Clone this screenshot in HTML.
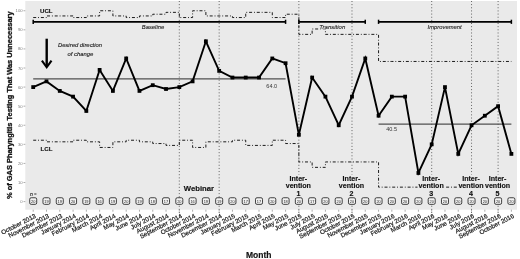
<!DOCTYPE html>
<html><head><meta charset="utf-8"><title>Control chart</title>
<style>html,body{margin:0;padding:0;background:#fff;}body{width:520px;height:259px;overflow:hidden}svg{display:block}</style>
</head><body>
<svg width="520" height="259" viewBox="0 0 520 259" font-family="Liberation Sans, Arial, sans-serif">
<rect width="520" height="259" fill="#fff"/>
<rect x="25.3" y="1" width="491.7" height="208.7" fill="#eaeaea"/>
<line x1="23.5" x2="25.3" y1="201.60" y2="201.60" stroke="#777" stroke-width="0.6"/>
<text x="22.6" y="203.10" font-size="4.2" text-anchor="end" fill="#7d7d7d">0</text>
<line x1="23.5" x2="25.3" y1="182.51" y2="182.51" stroke="#777" stroke-width="0.6"/>
<text x="22.6" y="184.01" font-size="4.2" text-anchor="end" fill="#7d7d7d">10</text>
<line x1="23.5" x2="25.3" y1="163.43" y2="163.43" stroke="#777" stroke-width="0.6"/>
<text x="22.6" y="164.93" font-size="4.2" text-anchor="end" fill="#7d7d7d">20</text>
<line x1="23.5" x2="25.3" y1="144.34" y2="144.34" stroke="#777" stroke-width="0.6"/>
<text x="22.6" y="145.84" font-size="4.2" text-anchor="end" fill="#7d7d7d">30</text>
<line x1="23.5" x2="25.3" y1="125.26" y2="125.26" stroke="#777" stroke-width="0.6"/>
<text x="22.6" y="126.76" font-size="4.2" text-anchor="end" fill="#7d7d7d">40</text>
<line x1="23.5" x2="25.3" y1="106.17" y2="106.17" stroke="#777" stroke-width="0.6"/>
<text x="22.6" y="107.67" font-size="4.2" text-anchor="end" fill="#7d7d7d">50</text>
<line x1="23.5" x2="25.3" y1="87.09" y2="87.09" stroke="#777" stroke-width="0.6"/>
<text x="22.6" y="88.59" font-size="4.2" text-anchor="end" fill="#7d7d7d">60</text>
<line x1="23.5" x2="25.3" y1="68.00" y2="68.00" stroke="#777" stroke-width="0.6"/>
<text x="22.6" y="69.50" font-size="4.2" text-anchor="end" fill="#7d7d7d">70</text>
<line x1="23.5" x2="25.3" y1="48.92" y2="48.92" stroke="#777" stroke-width="0.6"/>
<text x="22.6" y="50.42" font-size="4.2" text-anchor="end" fill="#7d7d7d">80</text>
<line x1="23.5" x2="25.3" y1="29.83" y2="29.83" stroke="#777" stroke-width="0.6"/>
<text x="22.6" y="31.33" font-size="4.2" text-anchor="end" fill="#7d7d7d">90</text>
<line x1="23.5" x2="25.3" y1="10.75" y2="10.75" stroke="#777" stroke-width="0.6"/>
<text x="22.6" y="12.25" font-size="4.2" text-anchor="end" fill="#7d7d7d">100</text>
<text transform="translate(11.8,105.2) rotate(-90)" font-size="7.45" font-weight="bold" text-anchor="middle" fill="#111" stroke="#111" stroke-width="0.3">% of GAS Pharyngitis Testing That Was Unnecessary</text>
<line x1="179.31" x2="179.31" y1="1" y2="216.2" stroke="#555" stroke-width="0.95" stroke-dasharray="0.95 2.2"/>
<line x1="219.16" x2="219.16" y1="1" y2="216.2" stroke="#555" stroke-width="0.95" stroke-dasharray="0.95 2.2"/>
<line x1="298.86" x2="298.86" y1="1" y2="216.2" stroke="#555" stroke-width="0.95" stroke-dasharray="0.95 2.2"/>
<line x1="351.99" x2="351.99" y1="1" y2="216.2" stroke="#555" stroke-width="0.95" stroke-dasharray="0.95 2.2"/>
<line x1="431.69" x2="431.69" y1="1" y2="216.2" stroke="#555" stroke-width="0.95" stroke-dasharray="0.95 2.2"/>
<line x1="471.54" x2="471.54" y1="1" y2="216.2" stroke="#555" stroke-width="0.95" stroke-dasharray="0.95 2.2"/>
<line x1="498.10" x2="498.10" y1="1" y2="216.2" stroke="#555" stroke-width="0.95" stroke-dasharray="0.95 2.2"/>
<polyline points="33.20,17.54 46.48,17.54 46.48,15.95 59.77,15.95 59.77,15.95 73.05,15.95 73.05,17.54 86.33,17.54 86.33,15.95 99.61,15.95 99.61,10.75 112.90,10.75 112.90,15.95 126.18,15.95 126.18,17.54 139.46,17.54 139.46,15.95 152.75,15.95 152.75,14.23 166.03,14.23 166.03,12.35 179.31,12.35 179.31,17.54 192.60,17.54 192.60,10.75 205.88,10.75 205.88,15.95 219.16,15.95 219.16,15.95 232.44,15.95 232.44,17.54 245.73,17.54 245.73,12.35 259.01,12.35 259.01,12.35 272.29,12.35 272.29,17.54 285.58,17.54 285.58,14.23 298.86,14.23 298.86,34.37 312.14,34.37 312.14,28.97 325.43,28.97 325.43,34.37 338.71,34.37 338.71,34.37 351.99,34.37 351.99,34.37 365.27,34.37 365.27,34.37 378.56,34.37 378.56,61.46 391.84,61.46 391.84,61.46 405.12,61.46 405.12,61.46 418.41,61.46 418.41,61.46 431.69,61.46 431.69,61.46 444.97,61.46 444.97,61.46 458.26,61.46 458.26,61.46 471.54,61.46 471.54,61.46 484.82,61.46 484.82,61.46 498.10,61.46 498.10,61.46 511.39,61.46 511.39,61.46 511.39,61.46" fill="none" stroke="#111" stroke-width="0.95" stroke-dasharray="3 1.9 0.9 1.9"/>
<polyline points="33.20,140.22 46.48,140.22 46.48,141.82 59.77,141.82 59.77,141.82 73.05,141.82 73.05,140.22 86.33,140.22 86.33,141.82 99.61,141.82 99.61,147.46 112.90,147.46 112.90,141.82 126.18,141.82 126.18,140.22 139.46,140.22 139.46,141.82 152.75,141.82 152.75,143.54 166.03,143.54 166.03,145.42 179.31,145.42 179.31,140.22 192.60,140.22 192.60,147.46 205.88,147.46 205.88,141.82 219.16,141.82 219.16,141.82 232.44,141.82 232.44,140.22 245.73,140.22 245.73,145.42 259.01,145.42 259.01,145.42 272.29,145.42 272.29,140.22 285.58,140.22 285.58,143.54 298.86,143.54 298.86,161.95 312.14,161.95 312.14,167.35 325.43,167.35 325.43,161.95 338.71,161.95 338.71,161.95 351.99,161.95 351.99,161.95 365.27,161.95 365.27,161.95 378.56,161.95 378.56,187.15 391.84,187.15 391.84,187.15 405.12,187.15 405.12,187.15 418.41,187.15 418.41,187.15 431.69,187.15 431.69,187.15 444.97,187.15 444.97,187.15 458.26,187.15 458.26,187.15 471.54,187.15 471.54,187.15 484.82,187.15 484.82,187.15 498.10,187.15 498.10,187.15 511.39,187.15 511.39,187.15 511.39,187.15" fill="none" stroke="#111" stroke-width="0.95" stroke-dasharray="3 1.9 0.9 1.9"/>
<line x1="33.20" x2="285.58" y1="78.88" y2="78.88" stroke="#505050" stroke-width="1.3"/>
<line x1="378.56" x2="511.39" y1="124.11" y2="124.11" stroke="#505050" stroke-width="1.3"/>
<line x1="33.20" x2="285.58" y1="21.8" y2="21.8" stroke="#000" stroke-width="1.85"/>
<line x1="33.20" x2="33.20" y1="19.7" y2="23.900000000000002" stroke="#000" stroke-width="1.5"/>
<line x1="285.58" x2="285.58" y1="19.7" y2="23.900000000000002" stroke="#000" stroke-width="1.5"/>
<text x="153" y="28.700000000000003" font-size="5.85" font-style="italic" text-anchor="middle" fill="#1a1a1a" stroke="#1a1a1a" stroke-width="0.1">Baseline</text>
<line x1="298.86" x2="365.27" y1="21.8" y2="21.8" stroke="#000" stroke-width="1.85"/>
<line x1="298.86" x2="298.86" y1="19.7" y2="23.900000000000002" stroke="#000" stroke-width="1.5"/>
<line x1="365.27" x2="365.27" y1="19.7" y2="23.900000000000002" stroke="#000" stroke-width="1.5"/>
<rect x="318.80" y="23.3" width="27" height="6.1" fill="#eaeaea"/>
<text x="332.3" y="28.700000000000003" font-size="6.0" font-style="italic" text-anchor="middle" fill="#1a1a1a" stroke="#1a1a1a" stroke-width="0.1">Transition</text>
<line x1="378.56" x2="511.39" y1="21.8" y2="21.8" stroke="#000" stroke-width="1.85"/>
<line x1="378.56" x2="378.56" y1="19.7" y2="23.900000000000002" stroke="#000" stroke-width="1.5"/>
<line x1="511.39" x2="511.39" y1="19.7" y2="23.900000000000002" stroke="#000" stroke-width="1.5"/>
<rect x="426.35" y="23.3" width="36.5" height="6.1" fill="#eaeaea"/>
<text x="444.6" y="28.700000000000003" font-size="5.85" font-style="italic" text-anchor="middle" fill="#1a1a1a" stroke="#1a1a1a" stroke-width="0.1">Improvement</text>
<rect x="284.66" y="174.6" width="27.4" height="22.4" fill="#eaeaea"/>
<rect x="337.79" y="174.6" width="27.4" height="22.4" fill="#eaeaea"/>
<rect x="417.49" y="174.6" width="27.4" height="22.4" fill="#eaeaea"/>
<rect x="457.34" y="174.6" width="27.4" height="22.4" fill="#eaeaea"/>
<rect x="483.90" y="174.6" width="27.4" height="22.4" fill="#eaeaea"/>
<polyline points="33.20,87.09 46.48,81.36 59.77,90.91 73.05,96.63 86.33,110.95 99.61,69.91 112.90,90.91 126.18,58.46 139.46,90.91 152.75,85.18 166.03,89.00 179.31,87.09 192.60,81.36 205.88,41.29 219.16,70.87 232.44,77.55 245.73,77.55 259.01,77.55 272.29,58.46 285.58,63.23 298.86,134.80 312.14,77.55 325.43,96.63 338.71,125.26 351.99,96.63 365.27,58.46 378.56,115.72 391.84,96.63 405.12,96.63 418.41,172.97 431.69,144.34 444.97,87.09 458.26,153.89 471.54,125.26 484.82,115.72 498.10,106.17 511.39,153.89" fill="none" stroke="#000" stroke-width="1.9" stroke-linejoin="miter"/>
<rect x="31.30" y="85.19" width="3.8" height="3.8" fill="#000"/>
<rect x="44.58" y="79.46" width="3.8" height="3.8" fill="#000"/>
<rect x="57.87" y="89.01" width="3.8" height="3.8" fill="#000"/>
<rect x="71.15" y="94.73" width="3.8" height="3.8" fill="#000"/>
<rect x="84.43" y="109.05" width="3.8" height="3.8" fill="#000"/>
<rect x="97.71" y="68.01" width="3.8" height="3.8" fill="#000"/>
<rect x="111.00" y="89.01" width="3.8" height="3.8" fill="#000"/>
<rect x="124.28" y="56.56" width="3.8" height="3.8" fill="#000"/>
<rect x="137.56" y="89.01" width="3.8" height="3.8" fill="#000"/>
<rect x="150.85" y="83.28" width="3.8" height="3.8" fill="#000"/>
<rect x="164.13" y="87.10" width="3.8" height="3.8" fill="#000"/>
<rect x="177.41" y="85.19" width="3.8" height="3.8" fill="#000"/>
<rect x="190.70" y="79.46" width="3.8" height="3.8" fill="#000"/>
<rect x="203.98" y="39.39" width="3.8" height="3.8" fill="#000"/>
<rect x="217.26" y="68.97" width="3.8" height="3.8" fill="#000"/>
<rect x="230.54" y="75.65" width="3.8" height="3.8" fill="#000"/>
<rect x="243.83" y="75.65" width="3.8" height="3.8" fill="#000"/>
<rect x="257.11" y="75.65" width="3.8" height="3.8" fill="#000"/>
<rect x="270.39" y="56.56" width="3.8" height="3.8" fill="#000"/>
<rect x="283.68" y="61.33" width="3.8" height="3.8" fill="#000"/>
<rect x="296.96" y="132.90" width="3.8" height="3.8" fill="#000"/>
<rect x="310.24" y="75.65" width="3.8" height="3.8" fill="#000"/>
<rect x="323.53" y="94.73" width="3.8" height="3.8" fill="#000"/>
<rect x="336.81" y="123.36" width="3.8" height="3.8" fill="#000"/>
<rect x="350.09" y="94.73" width="3.8" height="3.8" fill="#000"/>
<rect x="363.38" y="56.56" width="3.8" height="3.8" fill="#000"/>
<rect x="376.66" y="113.82" width="3.8" height="3.8" fill="#000"/>
<rect x="389.94" y="94.73" width="3.8" height="3.8" fill="#000"/>
<rect x="403.22" y="94.73" width="3.8" height="3.8" fill="#000"/>
<rect x="416.51" y="171.07" width="3.8" height="3.8" fill="#000"/>
<rect x="429.79" y="142.44" width="3.8" height="3.8" fill="#000"/>
<rect x="443.07" y="85.19" width="3.8" height="3.8" fill="#000"/>
<rect x="456.36" y="151.99" width="3.8" height="3.8" fill="#000"/>
<rect x="469.64" y="123.36" width="3.8" height="3.8" fill="#000"/>
<rect x="482.92" y="113.82" width="3.8" height="3.8" fill="#000"/>
<rect x="496.20" y="104.27" width="3.8" height="3.8" fill="#000"/>
<rect x="509.49" y="151.99" width="3.8" height="3.8" fill="#000"/>
<text x="40" y="13.1" font-size="6.1" font-weight="bold" fill="#111" stroke="#111" stroke-width="0.12">UCL</text>
<text x="40.6" y="150.5" font-size="6.1" font-weight="bold" fill="#111" stroke="#111" stroke-width="0.12">LCL</text>
<text x="80" y="46.9" font-size="5.9" font-style="italic" text-anchor="middle" fill="#1a1a1a" stroke="#1a1a1a" stroke-width="0.12">Desired direction</text>
<text x="80.4" y="55.7" font-size="5.9" font-style="italic" text-anchor="middle" fill="#1a1a1a" stroke="#1a1a1a" stroke-width="0.12">of change</text>
<line x1="46.7" x2="46.7" y1="38.7" y2="67" stroke="#000" stroke-width="2.4"/>
<polyline points="41.9,60.6 46.7,67.3 51.5,60.6" fill="none" stroke="#000" stroke-width="2.1"/>
<text x="271.7" y="87.6" font-size="5.5" text-anchor="middle" fill="#333">64.0</text>
<text x="391.6" y="131.2" font-size="5.5" text-anchor="middle" fill="#333">40.5</text>
<text x="198.9" y="191.2" font-size="7.7" font-weight="bold" text-anchor="middle" fill="#111" stroke="#111" stroke-width="0.15">Webinar</text>
<text x="298.36" y="181.0" font-size="7.1" font-weight="bold" text-anchor="middle" fill="#111" stroke="#111" stroke-width="0.15">Inter-</text>
<text x="298.36" y="188.4" font-size="7.1" font-weight="bold" text-anchor="middle" fill="#111" stroke="#111" stroke-width="0.15">vention</text>
<text x="298.36" y="195.8" font-size="7.1" font-weight="bold" text-anchor="middle" fill="#111" stroke="#111" stroke-width="0.15">1</text>
<text x="351.49" y="181.0" font-size="7.1" font-weight="bold" text-anchor="middle" fill="#111" stroke="#111" stroke-width="0.15">Inter-</text>
<text x="351.49" y="188.4" font-size="7.1" font-weight="bold" text-anchor="middle" fill="#111" stroke="#111" stroke-width="0.15">vention</text>
<text x="351.49" y="195.8" font-size="7.1" font-weight="bold" text-anchor="middle" fill="#111" stroke="#111" stroke-width="0.15">2</text>
<text x="431.19" y="181.0" font-size="7.1" font-weight="bold" text-anchor="middle" fill="#111" stroke="#111" stroke-width="0.15">Inter-</text>
<text x="431.19" y="188.4" font-size="7.1" font-weight="bold" text-anchor="middle" fill="#111" stroke="#111" stroke-width="0.15">vention</text>
<text x="431.19" y="195.8" font-size="7.1" font-weight="bold" text-anchor="middle" fill="#111" stroke="#111" stroke-width="0.15">3</text>
<text x="471.04" y="181.0" font-size="7.1" font-weight="bold" text-anchor="middle" fill="#111" stroke="#111" stroke-width="0.15">Inter-</text>
<text x="471.04" y="188.4" font-size="7.1" font-weight="bold" text-anchor="middle" fill="#111" stroke="#111" stroke-width="0.15">vention</text>
<text x="471.04" y="195.8" font-size="7.1" font-weight="bold" text-anchor="middle" fill="#111" stroke="#111" stroke-width="0.15">4</text>
<text x="497.60" y="181.0" font-size="7.1" font-weight="bold" text-anchor="middle" fill="#111" stroke="#111" stroke-width="0.15">Inter-</text>
<text x="497.60" y="188.4" font-size="7.1" font-weight="bold" text-anchor="middle" fill="#111" stroke="#111" stroke-width="0.15">vention</text>
<text x="497.60" y="195.8" font-size="7.1" font-weight="bold" text-anchor="middle" fill="#111" stroke="#111" stroke-width="0.15">5</text>
<text x="30" y="195.8" font-size="5.2" fill="#222"><tspan font-style="italic" stroke="#222" stroke-width="0.15">n</tspan><tspan font-size="4.6" dx="1.0" fill="#333">=</tspan></text>
<rect x="29.70" y="197.75" width="7.0" height="6.6" rx="1.5" fill="#f2f2f2" stroke="#222" stroke-width="0.85"/>
<text x="33.20" y="202.75" font-size="3.9" text-anchor="middle" fill="#222">20</text>
<rect x="42.98" y="197.75" width="7.0" height="6.6" rx="1.5" fill="#f2f2f2" stroke="#222" stroke-width="0.85"/>
<text x="46.48" y="202.75" font-size="3.9" text-anchor="middle" fill="#222">19</text>
<rect x="56.27" y="197.75" width="7.0" height="6.6" rx="1.5" fill="#f2f2f2" stroke="#222" stroke-width="0.85"/>
<text x="59.77" y="202.75" font-size="3.9" text-anchor="middle" fill="#222">19</text>
<rect x="69.55" y="197.75" width="7.0" height="6.6" rx="1.5" fill="#f2f2f2" stroke="#222" stroke-width="0.85"/>
<text x="73.05" y="202.75" font-size="3.9" text-anchor="middle" fill="#222">20</text>
<rect x="82.83" y="197.75" width="7.0" height="6.6" rx="1.5" fill="#f2f2f2" stroke="#222" stroke-width="0.85"/>
<text x="86.33" y="202.75" font-size="3.9" text-anchor="middle" fill="#222">19</text>
<rect x="96.11" y="197.75" width="7.0" height="6.6" rx="1.5" fill="#f2f2f2" stroke="#222" stroke-width="0.85"/>
<text x="99.61" y="202.75" font-size="3.9" text-anchor="middle" fill="#222">16</text>
<rect x="109.40" y="197.75" width="7.0" height="6.6" rx="1.5" fill="#f2f2f2" stroke="#222" stroke-width="0.85"/>
<text x="112.90" y="202.75" font-size="3.9" text-anchor="middle" fill="#222">19</text>
<rect x="122.68" y="197.75" width="7.0" height="6.6" rx="1.5" fill="#f2f2f2" stroke="#222" stroke-width="0.85"/>
<text x="126.18" y="202.75" font-size="3.9" text-anchor="middle" fill="#222">20</text>
<rect x="135.96" y="197.75" width="7.0" height="6.6" rx="1.5" fill="#f2f2f2" stroke="#222" stroke-width="0.85"/>
<text x="139.46" y="202.75" font-size="3.9" text-anchor="middle" fill="#222">19</text>
<rect x="149.25" y="197.75" width="7.0" height="6.6" rx="1.5" fill="#f2f2f2" stroke="#222" stroke-width="0.85"/>
<text x="152.75" y="202.75" font-size="3.9" text-anchor="middle" fill="#222">18</text>
<rect x="162.53" y="197.75" width="7.0" height="6.6" rx="1.5" fill="#f2f2f2" stroke="#222" stroke-width="0.85"/>
<text x="166.03" y="202.75" font-size="3.9" text-anchor="middle" fill="#222">17</text>
<rect x="175.81" y="197.75" width="7.0" height="6.6" rx="1.5" fill="#f2f2f2" stroke="#222" stroke-width="0.85"/>
<text x="179.31" y="202.75" font-size="3.9" text-anchor="middle" fill="#222">20</text>
<rect x="189.10" y="197.75" width="7.0" height="6.6" rx="1.5" fill="#f2f2f2" stroke="#222" stroke-width="0.85"/>
<text x="192.60" y="202.75" font-size="3.9" text-anchor="middle" fill="#222">16</text>
<rect x="202.38" y="197.75" width="7.0" height="6.6" rx="1.5" fill="#f2f2f2" stroke="#222" stroke-width="0.85"/>
<text x="205.88" y="202.75" font-size="3.9" text-anchor="middle" fill="#222">19</text>
<rect x="215.66" y="197.75" width="7.0" height="6.6" rx="1.5" fill="#f2f2f2" stroke="#222" stroke-width="0.85"/>
<text x="219.16" y="202.75" font-size="3.9" text-anchor="middle" fill="#222">19</text>
<rect x="228.94" y="197.75" width="7.0" height="6.6" rx="1.5" fill="#f2f2f2" stroke="#222" stroke-width="0.85"/>
<text x="232.44" y="202.75" font-size="3.9" text-anchor="middle" fill="#222">20</text>
<rect x="242.23" y="197.75" width="7.0" height="6.6" rx="1.5" fill="#f2f2f2" stroke="#222" stroke-width="0.85"/>
<text x="245.73" y="202.75" font-size="3.9" text-anchor="middle" fill="#222">17</text>
<rect x="255.51" y="197.75" width="7.0" height="6.6" rx="1.5" fill="#f2f2f2" stroke="#222" stroke-width="0.85"/>
<text x="259.01" y="202.75" font-size="3.9" text-anchor="middle" fill="#222">17</text>
<rect x="268.79" y="197.75" width="7.0" height="6.6" rx="1.5" fill="#f2f2f2" stroke="#222" stroke-width="0.85"/>
<text x="272.29" y="202.75" font-size="3.9" text-anchor="middle" fill="#222">20</text>
<rect x="282.08" y="197.75" width="7.0" height="6.6" rx="1.5" fill="#f2f2f2" stroke="#222" stroke-width="0.85"/>
<text x="285.58" y="202.75" font-size="3.9" text-anchor="middle" fill="#222">18</text>
<rect x="295.36" y="197.75" width="7.0" height="6.6" rx="1.5" fill="#f2f2f2" stroke="#222" stroke-width="0.85"/>
<text x="298.86" y="202.75" font-size="3.9" text-anchor="middle" fill="#222">20</text>
<rect x="308.64" y="197.75" width="7.0" height="6.6" rx="1.5" fill="#f2f2f2" stroke="#222" stroke-width="0.85"/>
<text x="312.14" y="202.75" font-size="3.9" text-anchor="middle" fill="#222">17</text>
<rect x="321.93" y="197.75" width="7.0" height="6.6" rx="1.5" fill="#f2f2f2" stroke="#222" stroke-width="0.85"/>
<text x="325.43" y="202.75" font-size="3.9" text-anchor="middle" fill="#222">20</text>
<rect x="335.21" y="197.75" width="7.0" height="6.6" rx="1.5" fill="#f2f2f2" stroke="#222" stroke-width="0.85"/>
<text x="338.71" y="202.75" font-size="3.9" text-anchor="middle" fill="#222">20</text>
<rect x="348.49" y="197.75" width="7.0" height="6.6" rx="1.5" fill="#f2f2f2" stroke="#222" stroke-width="0.85"/>
<text x="351.99" y="202.75" font-size="3.9" text-anchor="middle" fill="#222">20</text>
<rect x="361.77" y="197.75" width="7.0" height="6.6" rx="1.5" fill="#f2f2f2" stroke="#222" stroke-width="0.85"/>
<text x="365.27" y="202.75" font-size="3.9" text-anchor="middle" fill="#222">20</text>
<rect x="375.06" y="197.75" width="7.0" height="6.6" rx="1.5" fill="#f2f2f2" stroke="#222" stroke-width="0.85"/>
<text x="378.56" y="202.75" font-size="3.9" text-anchor="middle" fill="#222">20</text>
<rect x="388.34" y="197.75" width="7.0" height="6.6" rx="1.5" fill="#f2f2f2" stroke="#222" stroke-width="0.85"/>
<text x="391.84" y="202.75" font-size="3.9" text-anchor="middle" fill="#222">20</text>
<rect x="401.62" y="197.75" width="7.0" height="6.6" rx="1.5" fill="#f2f2f2" stroke="#222" stroke-width="0.85"/>
<text x="405.12" y="202.75" font-size="3.9" text-anchor="middle" fill="#222">20</text>
<rect x="414.91" y="197.75" width="7.0" height="6.6" rx="1.5" fill="#f2f2f2" stroke="#222" stroke-width="0.85"/>
<text x="418.41" y="202.75" font-size="3.9" text-anchor="middle" fill="#222">20</text>
<rect x="428.19" y="197.75" width="7.0" height="6.6" rx="1.5" fill="#f2f2f2" stroke="#222" stroke-width="0.85"/>
<text x="431.69" y="202.75" font-size="3.9" text-anchor="middle" fill="#222">20</text>
<rect x="441.47" y="197.75" width="7.0" height="6.6" rx="1.5" fill="#f2f2f2" stroke="#222" stroke-width="0.85"/>
<text x="444.97" y="202.75" font-size="3.9" text-anchor="middle" fill="#222">20</text>
<rect x="454.76" y="197.75" width="7.0" height="6.6" rx="1.5" fill="#f2f2f2" stroke="#222" stroke-width="0.85"/>
<text x="458.26" y="202.75" font-size="3.9" text-anchor="middle" fill="#222">20</text>
<rect x="468.04" y="197.75" width="7.0" height="6.6" rx="1.5" fill="#f2f2f2" stroke="#222" stroke-width="0.85"/>
<text x="471.54" y="202.75" font-size="3.9" text-anchor="middle" fill="#222">20</text>
<rect x="481.32" y="197.75" width="7.0" height="6.6" rx="1.5" fill="#f2f2f2" stroke="#222" stroke-width="0.85"/>
<text x="484.82" y="202.75" font-size="3.9" text-anchor="middle" fill="#222">20</text>
<rect x="494.60" y="197.75" width="7.0" height="6.6" rx="1.5" fill="#f2f2f2" stroke="#222" stroke-width="0.85"/>
<text x="498.10" y="202.75" font-size="3.9" text-anchor="middle" fill="#222">20</text>
<rect x="507.89" y="197.75" width="7.0" height="6.6" rx="1.5" fill="#f2f2f2" stroke="#222" stroke-width="0.85"/>
<text x="511.39" y="202.75" font-size="3.9" text-anchor="middle" fill="#222">20</text>
<line x1="33.20" x2="33.20" y1="209.7" y2="211.7" stroke="#777" stroke-width="0.6"/>
<text transform="translate(36.40,217.29999999999998) rotate(-27.3)" font-size="6.3" text-anchor="end" fill="#1c1c1c" stroke="#1c1c1c" stroke-width="0.2">October 2013</text>
<line x1="46.48" x2="46.48" y1="209.7" y2="211.7" stroke="#777" stroke-width="0.6"/>
<text transform="translate(49.68,217.29999999999998) rotate(-27.3)" font-size="6.3" text-anchor="end" fill="#1c1c1c" stroke="#1c1c1c" stroke-width="0.2">November 2013</text>
<line x1="59.77" x2="59.77" y1="209.7" y2="211.7" stroke="#777" stroke-width="0.6"/>
<text transform="translate(62.97,217.29999999999998) rotate(-27.3)" font-size="6.3" text-anchor="end" fill="#1c1c1c" stroke="#1c1c1c" stroke-width="0.2">December 2013</text>
<line x1="73.05" x2="73.05" y1="209.7" y2="211.7" stroke="#777" stroke-width="0.6"/>
<text transform="translate(76.25,217.29999999999998) rotate(-27.3)" font-size="6.3" text-anchor="end" fill="#1c1c1c" stroke="#1c1c1c" stroke-width="0.2">January 2014</text>
<line x1="86.33" x2="86.33" y1="209.7" y2="211.7" stroke="#777" stroke-width="0.6"/>
<text transform="translate(89.53,217.29999999999998) rotate(-27.3)" font-size="6.3" text-anchor="end" fill="#1c1c1c" stroke="#1c1c1c" stroke-width="0.2">February 2014</text>
<line x1="99.61" x2="99.61" y1="209.7" y2="211.7" stroke="#777" stroke-width="0.6"/>
<text transform="translate(102.81,217.29999999999998) rotate(-27.3)" font-size="6.3" text-anchor="end" fill="#1c1c1c" stroke="#1c1c1c" stroke-width="0.2">March 2014</text>
<line x1="112.90" x2="112.90" y1="209.7" y2="211.7" stroke="#777" stroke-width="0.6"/>
<text transform="translate(116.10,217.29999999999998) rotate(-27.3)" font-size="6.3" text-anchor="end" fill="#1c1c1c" stroke="#1c1c1c" stroke-width="0.2">April 2014</text>
<line x1="126.18" x2="126.18" y1="209.7" y2="211.7" stroke="#777" stroke-width="0.6"/>
<text transform="translate(129.38,217.29999999999998) rotate(-27.3)" font-size="6.3" text-anchor="end" fill="#1c1c1c" stroke="#1c1c1c" stroke-width="0.2">May 2014</text>
<line x1="139.46" x2="139.46" y1="209.7" y2="211.7" stroke="#777" stroke-width="0.6"/>
<text transform="translate(142.66,217.29999999999998) rotate(-27.3)" font-size="6.3" text-anchor="end" fill="#1c1c1c" stroke="#1c1c1c" stroke-width="0.2">June 2014</text>
<line x1="152.75" x2="152.75" y1="209.7" y2="211.7" stroke="#777" stroke-width="0.6"/>
<text transform="translate(155.95,217.29999999999998) rotate(-27.3)" font-size="6.3" text-anchor="end" fill="#1c1c1c" stroke="#1c1c1c" stroke-width="0.2">July 2014</text>
<line x1="166.03" x2="166.03" y1="209.7" y2="211.7" stroke="#777" stroke-width="0.6"/>
<text transform="translate(169.23,217.29999999999998) rotate(-27.3)" font-size="6.3" text-anchor="end" fill="#1c1c1c" stroke="#1c1c1c" stroke-width="0.2">August 2014</text>
<line x1="179.31" x2="179.31" y1="209.7" y2="211.7" stroke="#777" stroke-width="0.6"/>
<text transform="translate(182.51,217.29999999999998) rotate(-27.3)" font-size="6.3" text-anchor="end" fill="#1c1c1c" stroke="#1c1c1c" stroke-width="0.2">September 2014</text>
<line x1="192.60" x2="192.60" y1="209.7" y2="211.7" stroke="#777" stroke-width="0.6"/>
<text transform="translate(195.80,217.29999999999998) rotate(-27.3)" font-size="6.3" text-anchor="end" fill="#1c1c1c" stroke="#1c1c1c" stroke-width="0.2">October 2014</text>
<line x1="205.88" x2="205.88" y1="209.7" y2="211.7" stroke="#777" stroke-width="0.6"/>
<text transform="translate(209.08,217.29999999999998) rotate(-27.3)" font-size="6.3" text-anchor="end" fill="#1c1c1c" stroke="#1c1c1c" stroke-width="0.2">November 2014</text>
<line x1="219.16" x2="219.16" y1="209.7" y2="211.7" stroke="#777" stroke-width="0.6"/>
<text transform="translate(222.36,217.29999999999998) rotate(-27.3)" font-size="6.3" text-anchor="end" fill="#1c1c1c" stroke="#1c1c1c" stroke-width="0.2">December 2014</text>
<line x1="232.44" x2="232.44" y1="209.7" y2="211.7" stroke="#777" stroke-width="0.6"/>
<text transform="translate(235.64,217.29999999999998) rotate(-27.3)" font-size="6.3" text-anchor="end" fill="#1c1c1c" stroke="#1c1c1c" stroke-width="0.2">January 2015</text>
<line x1="245.73" x2="245.73" y1="209.7" y2="211.7" stroke="#777" stroke-width="0.6"/>
<text transform="translate(248.93,217.29999999999998) rotate(-27.3)" font-size="6.3" text-anchor="end" fill="#1c1c1c" stroke="#1c1c1c" stroke-width="0.2">February 2015</text>
<line x1="259.01" x2="259.01" y1="209.7" y2="211.7" stroke="#777" stroke-width="0.6"/>
<text transform="translate(262.21,217.29999999999998) rotate(-27.3)" font-size="6.3" text-anchor="end" fill="#1c1c1c" stroke="#1c1c1c" stroke-width="0.2">March 2015</text>
<line x1="272.29" x2="272.29" y1="209.7" y2="211.7" stroke="#777" stroke-width="0.6"/>
<text transform="translate(275.49,217.29999999999998) rotate(-27.3)" font-size="6.3" text-anchor="end" fill="#1c1c1c" stroke="#1c1c1c" stroke-width="0.2">April 2015</text>
<line x1="285.58" x2="285.58" y1="209.7" y2="211.7" stroke="#777" stroke-width="0.6"/>
<text transform="translate(288.78,217.29999999999998) rotate(-27.3)" font-size="6.3" text-anchor="end" fill="#1c1c1c" stroke="#1c1c1c" stroke-width="0.2">May 2015</text>
<line x1="298.86" x2="298.86" y1="209.7" y2="211.7" stroke="#777" stroke-width="0.6"/>
<text transform="translate(302.06,217.29999999999998) rotate(-27.3)" font-size="6.3" text-anchor="end" fill="#1c1c1c" stroke="#1c1c1c" stroke-width="0.2">June 2015</text>
<line x1="312.14" x2="312.14" y1="209.7" y2="211.7" stroke="#777" stroke-width="0.6"/>
<text transform="translate(315.34,217.29999999999998) rotate(-27.3)" font-size="6.3" text-anchor="end" fill="#1c1c1c" stroke="#1c1c1c" stroke-width="0.2">July 2015</text>
<line x1="325.43" x2="325.43" y1="209.7" y2="211.7" stroke="#777" stroke-width="0.6"/>
<text transform="translate(328.63,217.29999999999998) rotate(-27.3)" font-size="6.3" text-anchor="end" fill="#1c1c1c" stroke="#1c1c1c" stroke-width="0.2">August 2015</text>
<line x1="338.71" x2="338.71" y1="209.7" y2="211.7" stroke="#777" stroke-width="0.6"/>
<text transform="translate(341.91,217.29999999999998) rotate(-27.3)" font-size="6.3" text-anchor="end" fill="#1c1c1c" stroke="#1c1c1c" stroke-width="0.2">September 2015</text>
<line x1="351.99" x2="351.99" y1="209.7" y2="211.7" stroke="#777" stroke-width="0.6"/>
<text transform="translate(355.19,217.29999999999998) rotate(-27.3)" font-size="6.3" text-anchor="end" fill="#1c1c1c" stroke="#1c1c1c" stroke-width="0.2">October 2015</text>
<line x1="365.27" x2="365.27" y1="209.7" y2="211.7" stroke="#777" stroke-width="0.6"/>
<text transform="translate(368.47,217.29999999999998) rotate(-27.3)" font-size="6.3" text-anchor="end" fill="#1c1c1c" stroke="#1c1c1c" stroke-width="0.2">November 2015</text>
<line x1="378.56" x2="378.56" y1="209.7" y2="211.7" stroke="#777" stroke-width="0.6"/>
<text transform="translate(381.76,217.29999999999998) rotate(-27.3)" font-size="6.3" text-anchor="end" fill="#1c1c1c" stroke="#1c1c1c" stroke-width="0.2">December 2015</text>
<line x1="391.84" x2="391.84" y1="209.7" y2="211.7" stroke="#777" stroke-width="0.6"/>
<text transform="translate(395.04,217.29999999999998) rotate(-27.3)" font-size="6.3" text-anchor="end" fill="#1c1c1c" stroke="#1c1c1c" stroke-width="0.2">January 2016</text>
<line x1="405.12" x2="405.12" y1="209.7" y2="211.7" stroke="#777" stroke-width="0.6"/>
<text transform="translate(408.32,217.29999999999998) rotate(-27.3)" font-size="6.3" text-anchor="end" fill="#1c1c1c" stroke="#1c1c1c" stroke-width="0.2">February 2016</text>
<line x1="418.41" x2="418.41" y1="209.7" y2="211.7" stroke="#777" stroke-width="0.6"/>
<text transform="translate(421.61,217.29999999999998) rotate(-27.3)" font-size="6.3" text-anchor="end" fill="#1c1c1c" stroke="#1c1c1c" stroke-width="0.2">March 2016</text>
<line x1="431.69" x2="431.69" y1="209.7" y2="211.7" stroke="#777" stroke-width="0.6"/>
<text transform="translate(434.89,217.29999999999998) rotate(-27.3)" font-size="6.3" text-anchor="end" fill="#1c1c1c" stroke="#1c1c1c" stroke-width="0.2">April 2016</text>
<line x1="444.97" x2="444.97" y1="209.7" y2="211.7" stroke="#777" stroke-width="0.6"/>
<text transform="translate(448.17,217.29999999999998) rotate(-27.3)" font-size="6.3" text-anchor="end" fill="#1c1c1c" stroke="#1c1c1c" stroke-width="0.2">May 2016</text>
<line x1="458.26" x2="458.26" y1="209.7" y2="211.7" stroke="#777" stroke-width="0.6"/>
<text transform="translate(461.46,217.29999999999998) rotate(-27.3)" font-size="6.3" text-anchor="end" fill="#1c1c1c" stroke="#1c1c1c" stroke-width="0.2">June 2016</text>
<line x1="471.54" x2="471.54" y1="209.7" y2="211.7" stroke="#777" stroke-width="0.6"/>
<text transform="translate(474.74,217.29999999999998) rotate(-27.3)" font-size="6.3" text-anchor="end" fill="#1c1c1c" stroke="#1c1c1c" stroke-width="0.2">July 2016</text>
<line x1="484.82" x2="484.82" y1="209.7" y2="211.7" stroke="#777" stroke-width="0.6"/>
<text transform="translate(488.02,217.29999999999998) rotate(-27.3)" font-size="6.3" text-anchor="end" fill="#1c1c1c" stroke="#1c1c1c" stroke-width="0.2">August 2016</text>
<line x1="498.10" x2="498.10" y1="209.7" y2="211.7" stroke="#777" stroke-width="0.6"/>
<text transform="translate(501.30,217.29999999999998) rotate(-27.3)" font-size="6.3" text-anchor="end" fill="#1c1c1c" stroke="#1c1c1c" stroke-width="0.2">September 2016</text>
<line x1="511.39" x2="511.39" y1="209.7" y2="211.7" stroke="#777" stroke-width="0.6"/>
<text transform="translate(514.59,217.29999999999998) rotate(-27.3)" font-size="6.3" text-anchor="end" fill="#1c1c1c" stroke="#1c1c1c" stroke-width="0.2">October 2016</text>
<text x="258.7" y="257.8" font-size="8.5" font-weight="bold" text-anchor="middle" fill="#111" stroke="#111" stroke-width="0.15">Month</text>
</svg>
</body></html>
